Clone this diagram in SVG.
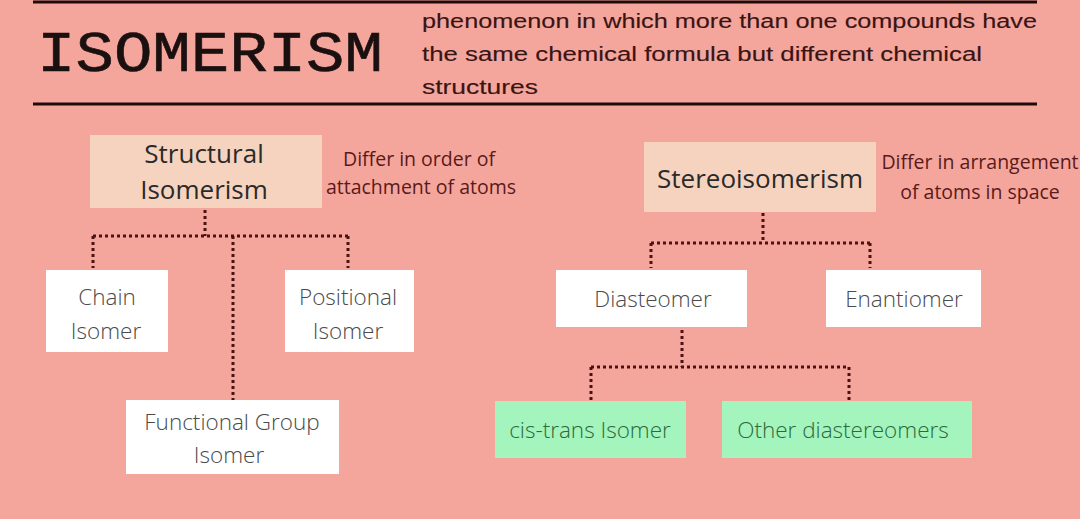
<svg xmlns="http://www.w3.org/2000/svg" width="1080" height="519" viewBox="0 0 1080 519">
<style>
.bg{fill:#f5a69c}
.rule{stroke:#1e0a0a;stroke-width:3}
.desc{font-family:"Liberation Sans",Arial,sans-serif;font-size:20px;fill:#3a1414;stroke:#3a1414;stroke-width:0.15}
.title{font-family:"Liberation Mono","DejaVu Sans Mono",monospace;font-size:58px;fill:#1a1010;stroke:#1a1010;stroke-width:0.6}
.head{fill:#f6d3bf}
.box{fill:#ffffff}
.green{fill:#a4f4bd}
.t{font-family:"Open Sans","Noto Sans",sans-serif;fill:#4a4a4a;text-anchor:middle;font-weight:300}
.big{font-size:26px;fill:#2a2a2a;font-weight:400}
.mid{font-size:22.5px}
.gt{font-family:"Open Sans","Noto Sans",sans-serif;font-size:22.5px;fill:#2a6a3c;text-anchor:middle;font-weight:300}
.note{font-family:"Open Sans","Noto Sans",sans-serif;font-size:19.5px;fill:#5a1a1a;text-anchor:middle}
.dot{fill:none;stroke:#4a1212;stroke-width:3;stroke-dasharray:3 3}
</style>
<rect class="bg" x="0" y="0" width="1080" height="519"/>
<g id="header">
<line class="rule" x1="33" y1="2" x2="1037" y2="2"/>
<line class="rule" x1="33" y1="104" x2="1037" y2="104"/>
<text class="title" x="37" y="71" textLength="346" lengthAdjust="spacingAndGlyphs">ISOMERISM</text>
<text class="desc" x="422" y="28" textLength="615" lengthAdjust="spacingAndGlyphs">phenomenon in which more than one compounds have</text>
<text class="desc" x="422" y="61" textLength="560" lengthAdjust="spacingAndGlyphs">the same chemical formula but different chemical</text>
<text class="desc" x="422" y="94" textLength="116" lengthAdjust="spacingAndGlyphs">structures</text>
</g>
<g id="connectors">
<path class="dot" d="M205 210V236M93 236H348M93 236V268M348 236V268M233 236V400"/>
<path class="dot" d="M763 213V243M651 243H870M651 243V268M870 243V268"/>
<path class="dot" d="M682 330V367M591 367H849M591 367V400M849 367V400"/>
</g>
<g id="structural">
<rect class="head" x="90" y="135" width="232" height="73"/>
<text class="t big" x="204" y="163">Structural</text>
<text class="t big" x="204" y="199">Isomerism</text>
<text class="note" x="419" y="166">Differ in order of</text>
<text class="note" x="421" y="194">attachment of atoms</text>
</g>
<g id="stereo">
<rect class="head" x="644" y="142" width="232" height="70"/>
<text class="t big" x="760" y="188">Stereoisomerism</text>
<text class="note" x="980" y="169">Differ in arrangement</text>
<text class="note" x="980" y="199">of atoms in space</text>
</g>
<g id="chain">
<rect class="box" x="46" y="270" width="122" height="82"/>
<text class="t mid" x="107" y="305">Chain</text>
<text class="t mid" x="106" y="339">Isomer</text>
</g>
<g id="positional">
<rect class="box" x="285" y="270" width="129" height="82"/>
<text class="t mid" x="348" y="305">Positional</text>
<text class="t mid" x="348" y="339">Isomer</text>
</g>
<g id="functional">
<rect class="box" x="126" y="400" width="213" height="74"/>
<text class="t mid" x="232" y="430">Functional Group</text>
<text class="t mid" x="229" y="463">Isomer</text>
</g>
<g id="diasteomer">
<rect class="box" x="556" y="270" width="191" height="57"/>
<text class="t mid" x="653" y="307">Diasteomer</text>
</g>
<g id="enantiomer">
<rect class="box" x="826" y="270" width="155" height="57"/>
<text class="t mid" x="904" y="307">Enantiomer</text>
</g>
<g id="cistrans">
<rect class="green" x="495" y="401" width="191" height="57"/>
<text class="gt" x="590" y="438">cis-trans Isomer</text>
</g>
<g id="other">
<rect class="green" x="722" y="401" width="250" height="57"/>
<text class="gt" x="843" y="438">Other diastereomers</text>
</g>
</svg>
